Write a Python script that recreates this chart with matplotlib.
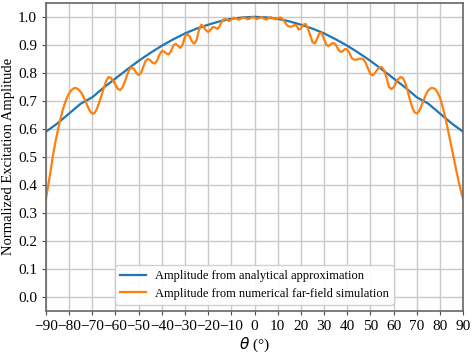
import numpy as np
import matplotlib
matplotlib.use("Agg")
import matplotlib.pyplot as plt

# analytical approximation, read every 5 degrees
theta_ana = np.arange(-90, 91, 5)
amp_ana = [0.590, 0.620, 0.655, 0.690, 0.713, 0.748, 0.780, 0.812, 0.843, 0.871,
           0.897, 0.920, 0.941, 0.958, 0.972, 0.984, 0.993, 0.998, 1.000,
           0.998, 0.993, 0.984, 0.972, 0.958, 0.941, 0.920, 0.897, 0.871,
           0.843, 0.812, 0.780, 0.748, 0.713, 0.690, 0.655, 0.620, 0.590]

# numerical far-field simulation, read every degree
theta_sim = np.arange(-90, 91, 1)
amp_sim = [
    0.350, 0.400, 0.450, 0.505, 0.550, 0.590, 0.628, 0.660, 0.688, 0.710,   # -90..-81
    0.727, 0.739, 0.745, 0.746, 0.741, 0.732, 0.718, 0.700, 0.680, 0.663,   # -80..-71
    0.654, 0.657, 0.672, 0.695, 0.720, 0.748, 0.772, 0.785, 0.782, 0.772,   # -70..-61
    0.757, 0.743, 0.739, 0.748, 0.768, 0.792, 0.813, 0.820, 0.813, 0.800,   # -60..-51
    0.792, 0.800, 0.822, 0.843, 0.850, 0.845, 0.836, 0.833, 0.845, 0.865,   # -50..-41
    0.878, 0.876, 0.869, 0.866, 0.878, 0.898, 0.904, 0.896, 0.889, 0.902,   # -40..-31
    0.930, 0.939, 0.930, 0.912, 0.904, 0.918, 0.952, 0.972, 0.966, 0.952,   # -30..-21
    0.946, 0.954, 0.964, 0.962, 0.957, 0.968, 0.986, 0.993, 0.990, 0.985,   # -20..-11
    0.990, 0.997, 0.995, 0.990, 0.993, 0.998, 0.996, 0.991, 0.994, 0.999,   # -10..-1
    0.997,                                                                  # 0
    0.992, 0.996, 0.999, 0.994, 0.990, 0.995, 0.999, 0.995, 0.991, 0.995,   # 1..10
    0.998, 0.993, 0.982, 0.970, 0.965, 0.965, 0.970, 0.971, 0.955, 0.958,   # 11..20
    0.972, 0.975, 0.960, 0.935, 0.910, 0.905, 0.922, 0.942, 0.942, 0.920,   # 21..30
    0.900, 0.896, 0.903, 0.907, 0.902, 0.885, 0.875, 0.877, 0.885, 0.884,   # 31..40
    0.870, 0.852, 0.847, 0.847, 0.850, 0.851, 0.848, 0.835, 0.815, 0.795,   # 41..50
    0.792, 0.800, 0.812, 0.820, 0.820, 0.808, 0.782, 0.750, 0.742, 0.748,   # 51..60
    0.763, 0.778, 0.785, 0.782, 0.765, 0.738, 0.706, 0.678, 0.660, 0.655,   # 61..70
    0.663, 0.682, 0.703, 0.724, 0.738, 0.745, 0.746, 0.742, 0.730, 0.712,   # 71..80
    0.685, 0.652, 0.615, 0.575, 0.535, 0.495, 0.455, 0.415, 0.380, 0.350,   # 81..90
]

xticks = np.arange(-90, 91, 10)
yticks = np.arange(0, 1.01, 0.1)

plt.rcParams["font.family"] = ["Liberation Serif", "DejaVu Serif"]
plt.rcParams["axes.unicode_minus"] = True

fig = plt.figure(figsize=(4.74, 3.55), dpi=100)
ax = fig.add_axes([0.097, 0.124, 0.880, 0.868])

ax.plot(theta_ana, amp_ana, color="#1f77b4", lw=1.6,
        label="Amplitude from analytical approximation")
ax.plot(theta_sim, amp_sim, color="#ff7f0e", lw=1.6,
        label="Amplitude from numerical far-field simulation")

ax.set_xlim(-90, 90)
ax.set_ylim(-0.05, 1.05)
ax.set_xticks(xticks)
ax.set_yticks(yticks)
ax.set_yticklabels([f"{v:.1f}" for v in yticks])
ax.tick_params(labelsize=11, length=3, color="0.3")
ax.grid(True, color="#c8c8c8", lw=1.0)
ax.set_axisbelow(True)
for s in ax.spines.values():
    s.set_color("0.4")
    s.set_linewidth(1.2)

ax.set_xlabel(r"$\theta$ (°)", fontsize=11, labelpad=2)
ax.set_ylabel("Normalized Excitation Amplitude", fontsize=10.5, labelpad=2)
ax.legend(loc="lower center", fontsize=9, framealpha=0.9, handlelength=2.1,
          handletextpad=0.7, labelspacing=0.45)

fig.savefig("out.png", dpi=100)
